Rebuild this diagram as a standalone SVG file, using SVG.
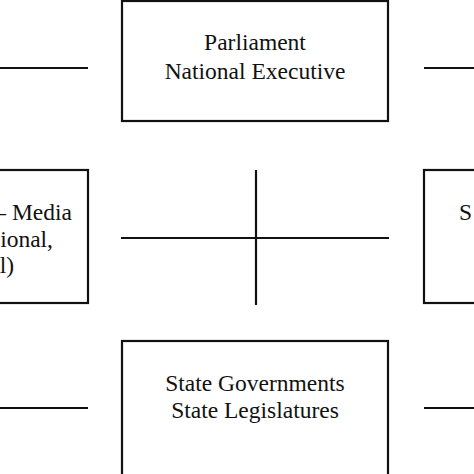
<svg xmlns="http://www.w3.org/2000/svg" width="474" height="474" viewBox="0 0 474 474">
<style>
.box{fill:#fff;stroke:#111;stroke-width:2.2}
.ln{stroke:#111;stroke-width:2.2;fill:none}
.t{font-family:"Liberation Serif","Times New Roman",serif;font-size:23.5px;fill:#111}
</style>
<rect width="474" height="474" fill="#fff"/>
<g id="connectors">
<line class="ln" x1="0" y1="68" x2="88" y2="68"/>
<line class="ln" x1="424" y1="68" x2="474" y2="68"/>
<line class="ln" x1="0" y1="408" x2="88" y2="408"/>
<line class="ln" x1="424" y1="408" x2="474" y2="408"/>
<line class="ln" x1="121" y1="238" x2="389" y2="238"/>
<line class="ln" x1="256" y1="170" x2="256" y2="305"/>
</g>
<g id="node-top">
<rect class="box" x="122" y="1" width="266" height="120"/>
<text class="t" x="255" y="50" text-anchor="middle">Parliament</text>
<text class="t" x="255" y="79" text-anchor="middle">National Executive</text>
</g>
<g id="node-bottom">
<rect class="box" x="122" y="341" width="266" height="140"/>
<text class="t" x="255" y="391" text-anchor="middle">State Governments</text>
<text class="t" x="255" y="418" text-anchor="middle">State Legislatures</text>
</g>
<g id="node-left">
<rect class="box" x="-10" y="170" width="98" height="133"/>
<text class="t" x="72" y="220" text-anchor="end">– Media</text>
<text class="t" x="53" y="247" text-anchor="end">ional,</text>
<text class="t" x="14" y="273" text-anchor="end">l)</text>
</g>
<g id="node-right">
<rect class="box" x="424" y="170" width="70" height="133"/>
<text class="t" x="459" y="220">S</text>
</g>
</svg>
